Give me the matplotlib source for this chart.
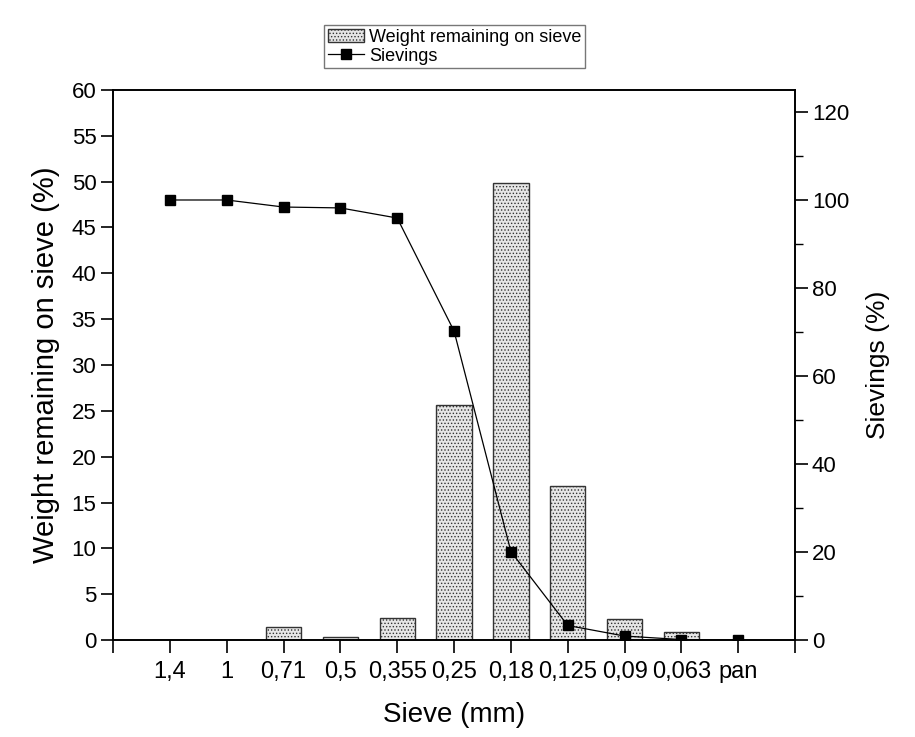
import matplotlib.pyplot as plt
from matplotlib.lines import Line2D
from matplotlib.patches import Patch

plt.rcParams['font.family'] = ['Liberation Sans', 'DejaVu Sans']
plt.rcParams['hatch.linewidth'] = 0.6

sieves = ['1,4', '1', '0,71', '0,5', '0,355', '0,25', '0,18', '0,125', '0,09', '0,063', 'pan']
weight = [0, 0, 1.4, 0.3, 2.4, 25.6, 49.8, 16.8, 2.3, 0.9, 0]
sievings = [100, 100, 98.4, 98.2, 95.9, 70.2, 20.1, 3.3, 0.9, 0.1, 0]

x = list(range(1, len(sieves) + 1))

fig = plt.figure(figsize=(9.15, 7.37), dpi=100)
ax = fig.add_axes([0.1235, 0.1316, 0.7455, 0.7463])

ax.bar(x, weight, width=0.62, color='#e6e6e6', edgecolor='#333333',
       hatch='.....', linewidth=1.0)
ax.set_xlim(0, 12)
ax.set_ylim(0, 60)
ax.set_yticks(range(0, 61, 5))
ax.set_xticks(range(0, 13))
ax.set_xticklabels([''] + sieves + [''])
ax.tick_params(direction='out', length=9, width=1.2, labelsize=16, pad=3)
ax.tick_params(axis='x', pad=6, labelsize=17)
for s in ax.spines.values():
    s.set_linewidth(1.2)
ax.set_xlabel('Sieve (mm)', fontsize=20, labelpad=14)
ax.set_ylabel('Weight remaining on sieve (%)', fontsize=21, labelpad=8)

ax2 = ax.twinx()
ax2.plot(x, sievings, color='black', linewidth=0.9, marker='s', markersize=7)
ax2.set_ylim(0, 125)
ax2.set_yticks(range(0, 121, 20))
ax2.set_yticks(range(10, 121, 20), minor=True)
ax2.tick_params(direction='out', length=9, width=1.2, labelsize=16, pad=3)
ax2.tick_params(which='minor', direction='out', length=6, width=1.0)
for s in ax2.spines.values():
    s.set_linewidth(1.2)
ax2.set_ylabel('Sievings (%)', fontsize=19, labelpad=12)

handles = [Patch(facecolor='#e6e6e6', edgecolor='#333333', hatch='.....', linewidth=1.0),
           Line2D([], [], color='black', linewidth=0.9, marker='s', markersize=7)]
leg = fig.legend(handles, ['Weight remaining on sieve', 'Sievings'],
                 loc='upper center', bbox_to_anchor=(0.497, 0.978), fontsize=13,
                 frameon=True, fancybox=False, edgecolor='#555555',
                 borderpad=0.2, handlelength=2.0, handletextpad=0.3,
                 labelspacing=0.1)
leg.get_frame().set_linewidth(1.0)

fig.savefig('out.png', dpi=100)
